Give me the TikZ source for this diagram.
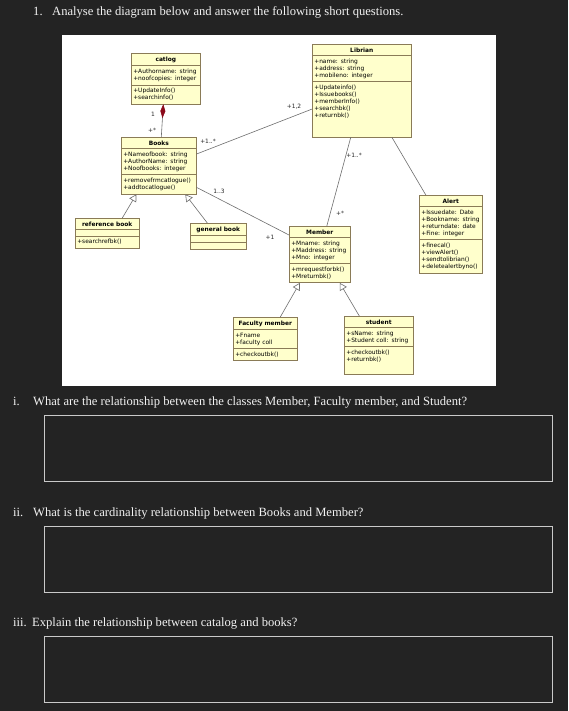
\documentclass[tikz,border=0pt]{standalone}
\usepackage{fontspec}
\setmainfont{Liberation Serif}
\newfontfamily\umlfont{DejaVu Sans}
\usepackage{tikz}
\usetikzlibrary{calc,arrows.meta,shapes.multipart}
\definecolor{page}{HTML}{232323}
\definecolor{ink}{HTML}{F2F2F2}
\definecolor{frame}{HTML}{C9C9C9}
\definecolor{clsfill}{HTML}{FFFFCC}
\definecolor{clsline}{HTML}{8A7B57}
\definecolor{wire}{HTML}{6E6E6E}
\definecolor{comp}{HTML}{8B0A1A}
\newcommand{\clshead}[1]{\hspace*{\fill}\textbf{#1}\hspace*{\fill}}
\tikzset{
  qtext/.style={text=ink, font=\fontsize{12.6}{15}\selectfont, inner sep=0pt, anchor=base west},
  ansbox/.style={draw=frame, line width=1.2pt, minimum width=508pt, minimum height=66pt, inner sep=0pt, anchor=north west},
  cls/.style={rectangle split, rectangle split parts=3, draw=clsline, fill=clsfill, line width=0.6pt,
    text width=#1, align=left, inner xsep=2pt, inner ysep=3pt, anchor=north west,
    font=\umlfont\fontsize{5.9}{7}\selectfont, text=black},
  mult/.style={font=\umlfont\fontsize{5.9}{7}\selectfont, inner sep=0pt, text=black!85},
  assoc/.style={draw=wire, line width=0.6pt},
  gen/.style={assoc, arrows={-Triangle[fill=white, length=7pt, width=8pt]}},
  compo/.style={assoc, arrows={Diamond[color=comp, length=14pt, width=5pt]-}},
}

\begin{document}
\begin{tikzpicture}[x=1pt, y=-1pt]
  \fill[page] (0,0) rectangle (568,711);
  \useasboundingbox (0,0) rectangle (568,711);
  \node[qtext] (title) at (33,16) {\makebox[19pt][l]{1.}Analyse the diagram below and answer the following short questions.};
  \fill[white] (62,35) rectangle (496,386);

  % classes
  \node[cls=65pt] (catlog) at (131,53) {\clshead{catlog}
    \nodepart{two}+Authorname: string\\+noofcopies: integer
    \nodepart{three}+UpdateInfo()\\+searchinfo()};
  \node[cls=71pt] (Books) at (121,137) {\clshead{Books}
    \nodepart{two}+Nameofbook: string\\+AuthorName: string\\+Noofbooks: integer
    \nodepart{three}+removefrmcatlogue()\\+addtocatlogue()};
  \node[cls=60pt] (refbook) at (75,218) {\clshead{reference book}
    \nodepart{two}
    \nodepart{three}+searchrefbk()};
  \node[cls=52pt] (genbook) at (190,223) {\clshead{general book}
    \nodepart{two}
    \nodepart{three}};
  \node[cls=95pt] (Librian) at (312,44) {\clshead{Librian}
    \nodepart{two}+name: string\\+address: string\\+mobileno: integer
    \nodepart{three}+Updateinfo()\\+Issuebooks()\\+memberInfo()\\+searchbk()\\+returnbk()\rule[-16pt]{0pt}{16pt}};
  \node[cls=59pt] (Alert) at (419,195) {\clshead{Alert}
    \nodepart{two}+Issuedate: Date\\+Bookname: string\\+returndate: date\\+Fine: integer
    \nodepart{three}+finecal()\\+viewAlert()\\+sendtolibrian()\\+deletealertbyno()};
  \node[cls=57pt] (Member) at (289,226) {\clshead{Member}
    \nodepart{two}+Mname: string\\+Maddress: string\\+Mno: integer
    \nodepart{three}+mrequestforbk()\\+Mreturnbk()};
  \node[cls=60pt] (faculty) at (233,317) {\clshead{Faculty member}
    \nodepart{two}+Fname\\+faculty coll
    \nodepart{three}+checkoutbk()};
  \node[cls=65pt] (student) at (344,316) {\clshead{student}
    \nodepart{two}+sName: string\\+Student coll: string
    \nodepart{three}+checkoutbk()\\+returnbk()\rule[-9pt]{0pt}{9pt}};

  % links
  \draw[compo] ($(catlog.south)+(-2.5,0)$) -- ($(Books.north)+(2.5,0)$);
  \draw[assoc] ($(Books.north east)+(0,17)$) -- ($(Librian.west)+(0,18.5)$);
  \draw[assoc] ($(Books.south east)+(0,-7)$) -- ($(Member.north west)+(0,9)$);
  \draw[assoc] ($(Librian.south)+(-11,0)$) -- ($(Member.north)+(7,0)$);
  \draw[assoc] ($(Librian.south)+(30,0)$) -- ($(Alert.north)+(-25,0)$);
  \draw[gen] ($(refbook.north)+(15,0)$) -- ($(Books.south)+(-22.5,0)$);
  \draw[gen] ($(genbook.north)+(-11,0)$) -- ($(Books.south)+(26.5,0)$);
  \draw[gen] ($(faculty.north)+(15,0)$) -- ($(Member.south)+(-20,0)$);
  \draw[gen] ($(student.north)+(-19.5,0)$) -- ($(Member.south)+(20,0)$);
  \foreach \nm/\txt/\px/\py in {mA/1/153/114, mB/+*/152/130, mC/+1..*/208/141, mD/{+1,2}/294/107,
      mE/1..3/219/191, mF/+1/270/237, mG/+1..*/354/155, mH/+*/340/213}
    \node[mult] (\nm) at (\px,\py) {\txt};

  % questions
  \node[qtext] (q1) at (13,405) {\makebox[20pt][l]{i.}What are the relationship between the classes Member, Faculty member, and Student?};
  \node[ansbox] (ans1) at (44,415) {};
  \node[qtext] (q2) at (13,516) {\makebox[20pt][l]{ii.}What is the cardinality relationship between Books and Member?};
  \node[ansbox] (ans2) at (44,526) {};
  \node[qtext] (q3) at (13,626) {\makebox[19pt][l]{iii.}Explain the relationship between catalog and books?};
  \node[ansbox] (ans3) at (44,636) {};
\end{tikzpicture}
\end{document}
